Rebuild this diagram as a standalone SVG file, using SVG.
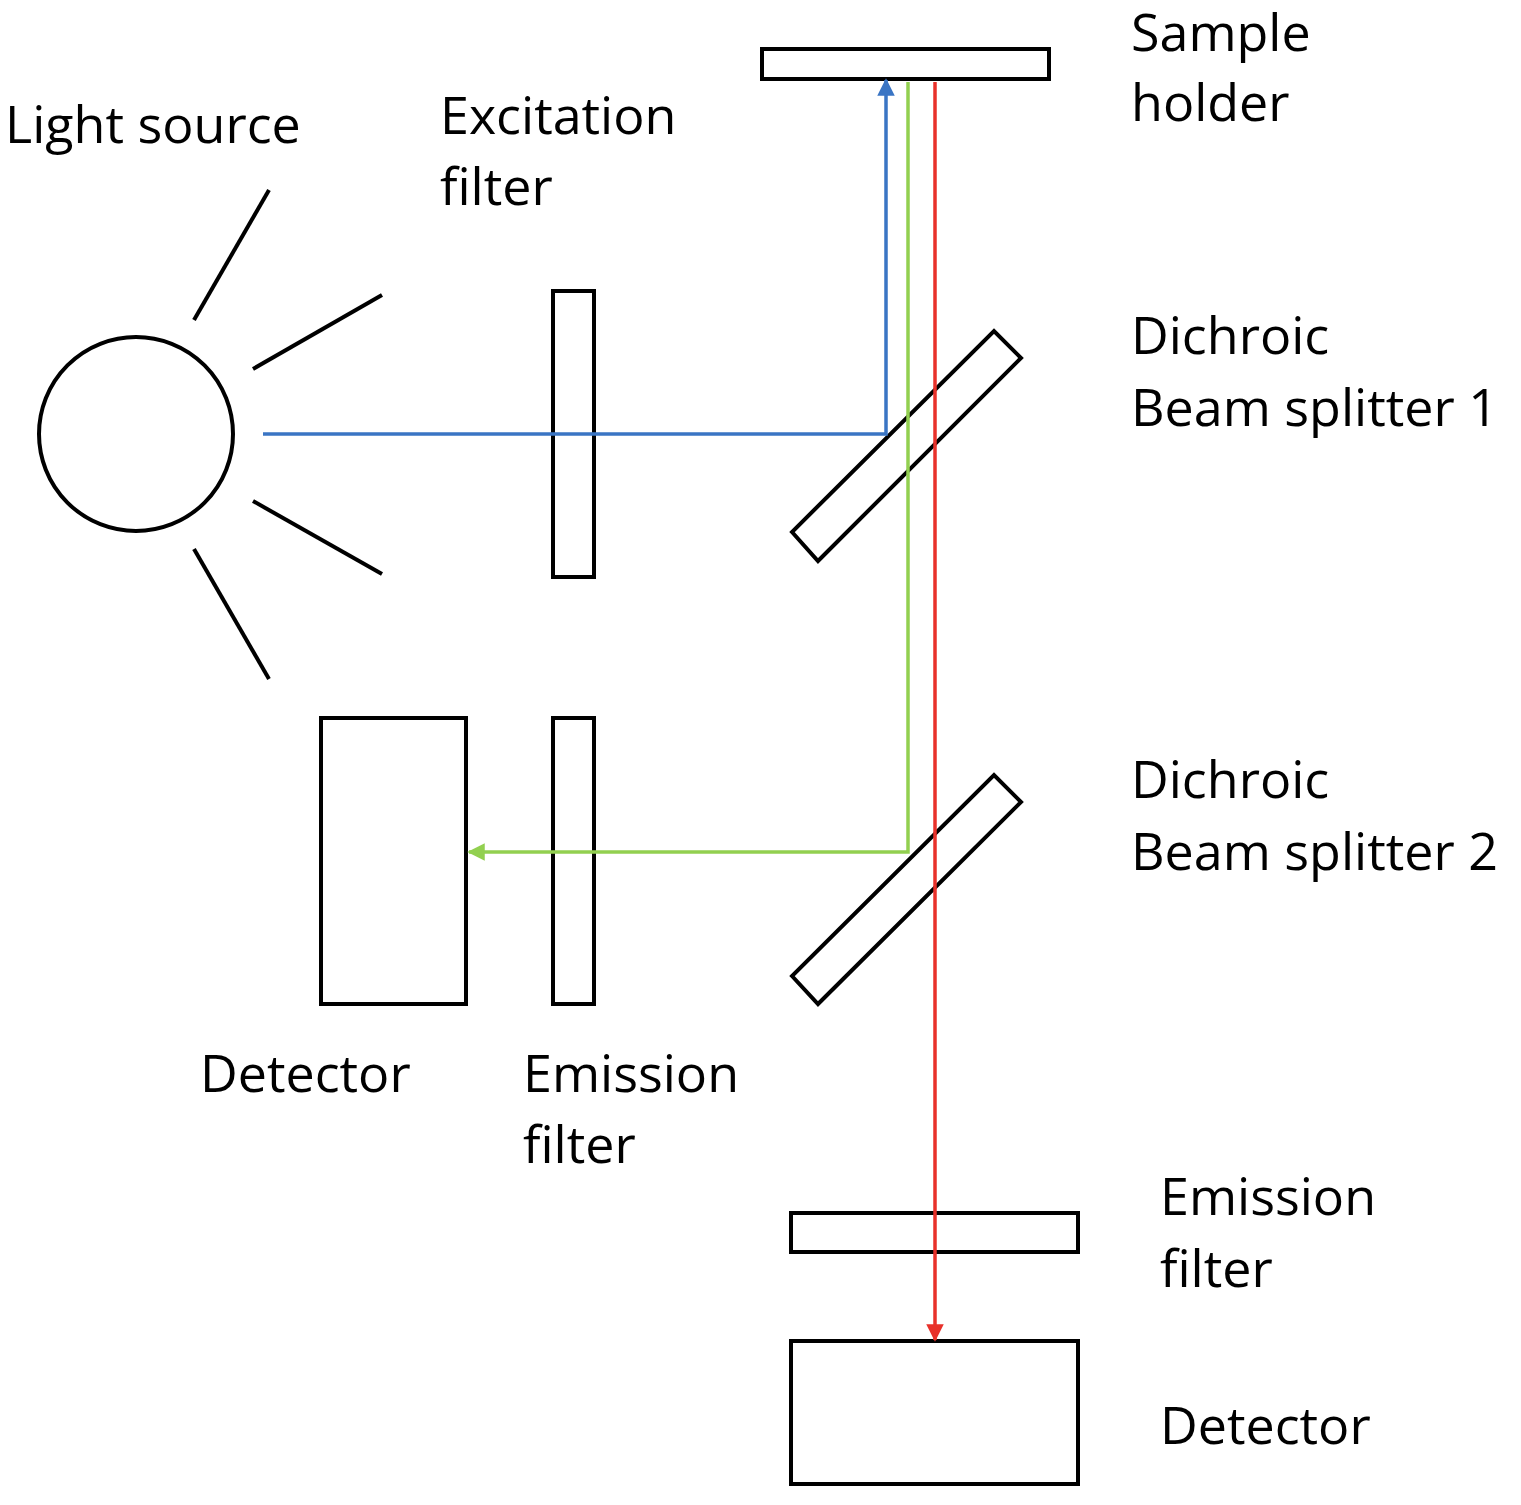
<svg xmlns="http://www.w3.org/2000/svg" width="1521" height="1505" viewBox="0 0 1521 1505">
<style>
.s{fill:none;stroke:#000;stroke-width:4}
text{font-family:"Open Sans","Liberation Sans",Arial,sans-serif;font-size:52px;fill:#000}
</style>
<defs>
<marker id="ab" viewBox="0 0 10 10" refX="9" refY="5" markerWidth="5" markerHeight="5" orient="auto"><path d="M0,0L10,5L0,10z" fill="#3a75c4"/></marker>
<marker id="ag" viewBox="0 0 10 10" refX="9" refY="5" markerWidth="5" markerHeight="5" orient="auto"><path d="M0,0L10,5L0,10z" fill="#92d050"/></marker>
<marker id="ar" viewBox="0 0 10 10" refX="9" refY="5" markerWidth="5" markerHeight="5" orient="auto"><path d="M0,0L10,5L0,10z" fill="#e8312a"/></marker>
</defs>
<rect width="1521" height="1505" fill="#fff"/>
<g id="light-source">
<circle class="s" cx="136" cy="434" r="97"/>
<line class="s" x1="194" y1="320" x2="269" y2="190"/>
<line class="s" x1="253" y1="369" x2="382" y2="295"/>
<line class="s" x1="253" y1="501" x2="382" y2="574"/>
<line class="s" x1="194" y1="549" x2="269" y2="679"/>
<text x="5" y="143">Light source</text>
</g>
<g id="excitation-filter">
<rect class="s" x="553" y="291" width="41" height="286"/>
<text x="440" y="134">Excitation</text><text x="440" y="205">filter</text>
</g>
<g id="sample-holder">
<rect class="s" x="762" y="49" width="287" height="30"/>
<text x="1131" y="51">Sample</text><text x="1131" y="121">holder</text>
</g>
<g id="dichroic-1">
<polygon class="s" points="792,532 818,561 1021,358 994,331"/>
<text x="1131" y="354">Dichroic</text><text x="1131" y="426">Beam splitter 1</text>
</g>
<g id="dichroic-2">
<polygon class="s" points="792,976 818,1004 1021,802 994,775"/>
<text x="1131" y="798">Dichroic</text><text x="1131" y="870">Beam splitter 2</text>
</g>
<g id="detector-left">
<rect class="s" x="321" y="718" width="145" height="286"/>
<text x="200" y="1092">Detector</text>
</g>
<g id="emission-filter-left">
<rect class="s" x="553" y="718" width="41" height="286"/>
<text x="523" y="1092">Emission</text><text x="523" y="1163">filter</text>
</g>
<g id="emission-filter-bottom">
<rect class="s" x="791" y="1213" width="287" height="39"/>
<text x="1160" y="1215">Emission</text><text x="1160" y="1287">filter</text>
</g>
<g id="detector-bottom">
<rect class="s" x="791" y="1341" width="287" height="143"/>
<text x="1160" y="1444">Detector</text>
</g>
<g id="connectors" fill="none" stroke-width="3.5">
<polyline points="263,434 886,434 886,80" stroke="#3a75c4" marker-end="url(#ab)"/>
<polyline points="908,82 908,852 469,852" stroke="#92d050" marker-end="url(#ag)"/>
<line x1="935" y1="82" x2="935" y2="1340" stroke="#e8312a" marker-end="url(#ar)"/>
</g>
</svg>
